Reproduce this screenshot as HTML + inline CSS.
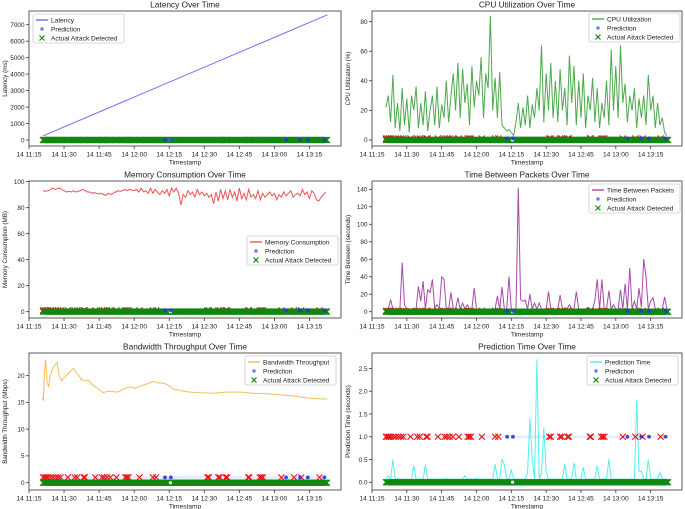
<!DOCTYPE html>
<html><head><meta charset="utf-8">
<style>
html,body{margin:0;padding:0;background:#fff;}
svg{display:block;font-family:"Liberation Sans","DejaVu Sans",sans-serif;}
</style></head>
<body>
<svg id="fig" width="685" height="509" viewBox="0 0 685 509" xmlns="http://www.w3.org/2000/svg"></svg>
<script>
// ---- shared data ----
const xTickLabels = ["14 11:15","14 11:30","14 11:45","14 12:00","14 12:15","14 12:30","14 12:45","14 13:00","14 13:15"];
const xTickMinutes = [0,15,30,45,60,75,90,105,120];
const startMinute = 6;           // first sample minute after 11:15
const redXMinutes = [6.0,6.7,7.4,8.1,9.2,10.2,11.4,12.5,13.5,16.6,19.5,20.6,23.4,23.9,28.4,31.3,32.2,33.4,34.8,37.4,41.2,41.9,42.6,47.3,53.0,54.4,76.3,77.0,81.0,81.7,84.2,84.8,93.8,94.2,98.7,99.4,100.1,108.0,113.4,116.5,124.3];
const blueDotMinutes = [58.2,60.7,110,116,119.3,126.4];
const latencyStart = 250, latencyEnd = 7600;
const bwMinutes = [5.7,6.1,6.7,7.1,7.7,8.4,9.1,10.3,12,12.9,13.9,16,18.1,19.1,20.3,21.4,22.4,23.9,25.3,27.4,29.6,31.7,33.9,36,37.7,39.6,41.7,43.9,45.3,47.4,50.3,53.1,55.3,57.4,59.6,61.7,64.6,68.9,73.1,78.9,84.6,90.3,96,101.7,107.4,113.1,118.9,123.1,127.7];
const bwValues = [15.8,15.3,21,23,19,17.8,20,21.5,22.4,20,19,20,21,21.3,20.5,20,19.2,19.1,19.1,18.2,17.5,16.8,17.1,17,16.9,17.3,17.7,17.9,17.6,18,18.4,18.9,18.6,18.6,18.2,17.5,17.2,16.9,16.8,16.7,16.9,16.9,16.7,16.6,16.4,16.2,15.8,15.7,15.6];
const cpuValues = [22,30,12,44,8,25,6,35,10,28, 5,30,20,36,8,25,10,33,6,20, 30,10,36,8,24,15,40,12,30,45, 20,52,15,48,25,38,10,50,22,40, 30,56,15,45,35,84,20,42,15,46, 10,8,6,7,5,3,12,25,8,22, 10,30,8,24,15,35,20,64,12,45, 20,52,15,40,12,48,20,35,10,57, 25,50,10,40,15,45,8,30,20,42, 12,35,8,25,15,40,10,61,20,50, 15,64,25,38,12,30,20,35,8,28, 15,30,10,44,20,30,8,25,10,15, 5,3];
const memValues = [93,92.5,93,93.5,95,94,94.5,95,94,93, 92,92.5,92,93,92,92.5,93,94,93,92, 92,91,91.5,91,90.5,91,90,89.5,91,90, 91,92,93,92.5,93,94,93,94,93.5,93, 94,92,95,92,93,91,95,91,94,92, 90,93,91,94,89,95,92,95,91,82, 90,88,93,90,92,88,94,90,92,89, 91,88,90,83,92,85,94,87,93,86, 94,88,92,85,95,87,91,86,94,88, 90,87,93,86,91,88,90,92,89,91, 86,90,88,92,89,91,93,88,90,91, 89,94,90,92,87,93,91,86,85,88, 90,92];
const tbpValues = [3,3,14,3,3,3,3,56,8,3, 2,3,3,3,29,12,35,3,25,22, 37,4,8,3,40,37,3,3,22,3, 3,16,3,10,3,8,3,3,27,3, 2,2,2,2,3,3,3,3,18,3, 28,3,3,40,3,3,3,142,14,12, 13,3,20,3,10,3,10,3,3,3, 23,3,3,3,3,19,3,3,3,8, 3,3,23,3,3,3,3,5,3,3, 13,37,3,37,3,3,24,3,8,3, 3,25,3,32,3,50,3,12,3,27, 5,60,40,3,12,16,3,3,3,3, 17,3];
const ptValues = [.07,.14,.07,.5,.07,.08,.07,.07,.07,.07, .07,.07,.37,.07,.07,.07,.07,.38,.07,.07, .07,.07,.07,.07,.07,.07,.08,.07,.07,.07, .07,.07,.07,.07,.14,.07,.07,.07,.07,.08, .07,.07,.07,.07,.07,.07,.07,.4,.07,.07, .51,.37,.07,.07,.28,.07,.07,.07,.07,.07, .07,.22,1.4,.5,.07,2.7,.07,.2,1.2,.24, .07,.07,.07,.07,.07,.07,.07,.4,.07,.07, .07,.43,.07,.07,.07,.33,.07,.07,.07,.07, .07,.37,.07,.07,.07,.07,.51,.07,.07,.07, .07,.07,.07,.07,.07,.07,.07,.07,1.8,.24, .24,.07,.07,.5,.07,.07,.07,.07,.22,.07, .07,.07];

const NS = "http://www.w3.org/2000/svg";
const svg = document.getElementById('fig');
function el(tag, attrs, parent, text){
  const e = document.createElementNS(NS, tag);
  for (const k in attrs) e.setAttribute(k, attrs[k]);
  if (text !== undefined) e.textContent = text;
  (parent || svg).appendChild(e);
  return e;
}

const panels = [
  {name:'latency', title:'Latency Over Time', ylab:'Latency (ms)', x0:29, x1:341, y0:11, y1:146, ymin:-364, ymax:7832, yticks:[0,1000,2000,3000,4000,5000,6000,7000], color:'#5555ee', label:'Latency', legend:[33,14]},
  {name:'cpu', title:'CPU Utilization Over Time', ylab:'CPU Utilization (%)', x0:372, x1:682, y0:11, y1:146, ymin:-4.1, ymax:87.2, yticks:[0,20,40,60,80], color:'#2e9a2e', label:'CPU Utilization', legend:[589,13]},
  {name:'memory', title:'Memory Consumption Over Time', ylab:'Memory Consumption (MB)', x0:29, x1:341, y0:181, y1:318, ymin:-4.9, ymax:100.5, yticks:[0,20,40,60,80,100], color:'#ee3333', label:'Memory Consumption', legend:[247,236]},
  {name:'tbp', title:'Time Between Packets Over Time', ylab:'Time Between (seconds)', x0:372, x1:682, y0:181, y1:318, ymin:-7.2, ymax:149.5, yticks:[0,20,40,60,80,100,120,140], color:'#9a2a9a', label:'Time Between Packets', legend:[589,184]},
  {name:'bandwidth', title:'Bandwidth Throughput Over Time', ylab:'Bandwidth Throughput (Mbps)', x0:29, x1:341, y0:353, y1:490, ymin:-1.36, ymax:24.2, yticks:[0,5,10,15,20], color:'#f5b040', label:'Bandwidth Throughput', legend:[245,356]},
  {name:'prediction-time', title:'Prediction Time Over Time', ylab:'Prediction Time (seconds)', x0:372, x1:682, y0:353, y1:490, ymin:-0.17, ymax:2.84, yticks:[0,0.5,1.0,1.5,2.0,2.5], color:'#33eeee', label:'Prediction Time', legend:[587,356]}
];
const xMinTot = 0, xMaxTot = 133.5;

panels.forEach(p=>{
  const g = el('g', {});
  
  
  const sx = m => p.x0 + (m - xMinTot) / (xMaxTot - xMinTot) * (p.x1 - p.x0);
  const sy = v => p.y1 - (v - p.ymin) / (p.ymax - p.ymin) * (p.y1 - p.y0);
  const t = el('text', {x:(p.x0+p.x1)/2, y:p.y0-3.5, 'font-size':8.3, 'text-anchor':'middle', fill:'#222'}, g, p.title);
   
  const yl = el('text', {x:0, y:0, 'font-size':6.3, 'text-anchor':'middle', fill:'#222', transform:`translate(${p.x0-22},${(p.y0+p.y1)/2}) rotate(-90)`}, g, p.ylab);
   
  const yd = p.yticks.some(v=>v%1!==0) ? 1 : 0;
  p.yticks.forEach(v=>{
    const y = sy(v);
    el('line', {x1:p.x0-3, x2:p.x0, y1:y, y2:y, stroke:'#333', 'stroke-width':0.8}, g);
    const tl = el('text', {x:p.x0-4.5, y:y+2.3, 'font-size':6.4, 'text-anchor':'end', fill:'#222'}, g, v.toFixed(yd));
     
  });
  xTickMinutes.forEach((m,i)=>{
    const x = sx(m);
    el('line', {x1:x, x2:x, y1:p.y1, y2:p.y1+3, stroke:'#333', 'stroke-width':0.8}, g);
    const tl = el('text', {x:x, y:p.y1+10.5, 'font-size':6.6, 'text-anchor':'middle', fill:'#222'}, g, xTickLabels[i]);
     
  });
  const xl = el('text', {x:(p.x0+p.x1)/2, y:p.y1+18.5, 'font-size':6.6, 'text-anchor':'middle', fill:'#222'}, g, 'Timestamp');
   

  const cid = 'clip-' + p.name;
  const cp = el('clipPath', {id:cid}, g);
  el('rect', {x:p.x0, y:p.y0, width:p.x1-p.x0, height:p.y1-p.y0}, cp);
  const pg = el('g', {'clip-path':`url(#${cid})`}, g);

  let pts = [];
  if (p.name==='latency'){
    pts = [[startMinute, latencyStart],[startMinute+121.7, latencyEnd]];
  } else if (p.name==='bandwidth'){
    pts = bwMinutes.map((m,i)=>[m, bwValues[i]]);
  } else {
    const arr = {cpu:cpuValues, memory:memValues, tbp:tbpValues, 'prediction-time':ptValues}[p.name];
    pts = arr.map((v,i)=>[startMinute+i, v]);
  }
  const line = el('polyline', {points: pts.map(q=>sx(q[0]).toFixed(1)+','+sy(q[1]).toFixed(1)).join(' '), fill:'none', stroke:p.color, 'stroke-width':1, 'stroke-opacity':0.85}, pg);
   

  for (let m=startMinute; m<=127.7; m+=1){
    el('circle', {cx:sx(m), cy:sy(1), r:1.8, fill:'#4455ff', 'fill-opacity':0.08}, pg);
  }
  // red predicted markers (drawn beneath green in upper plots)
  const rg = el('g', {stroke:'#ee1111', 'stroke-width':1.1}, pg);
   
  redXMinutes.forEach(m=>{
    const x = sx(m), y = sy(1);
    el('path', {d:`M${x-3},${y-3}L${x+3},${y+3}M${x-3},${y+3}L${x+3},${y-3}`}, rg);
  });
  const gg = el('g', {stroke:'#118811', 'stroke-width':1.1}, pg);
   
  for (let m=startMinute; m<=127.7; m+=0.5){
    const x = sx(m), y = sy(0);
    el('path', {d:`M${x-3},${y-3}L${x+3},${y+3}M${x-3},${y+3}L${x+3},${y-3}`}, gg);
  }
  el('circle', {cx:sx(60.5), cy:sy(0), r:1.6, fill:'#fff'}, pg);
  blueDotMinutes.forEach(m=>{
    const c = el('circle', {cx:sx(m), cy:sy(1), r:1.9, fill:'#2233ee', 'fill-opacity':0.9}, pg);
     
  });

  el('rect', {x:p.x0, y:p.y0, width:p.x1-p.x0, height:p.y1-p.y0, fill:'none', stroke:'#333', 'stroke-width':0.8}, g);

  const lw = 91, lh = 29;
  const lx = p.legend[0], ly = p.legend[1];
  const lg = el('g', {}, g);
   
  el('rect', {x:lx, y:ly, width:lw, height:lh, rx:2, fill:'#fff', 'fill-opacity':0.85, stroke:'#ccc', 'stroke-width':0.8}, lg);
  el('line', {x1:lx+3, x2:lx+15, y1:ly+6, y2:ly+6, stroke:p.color, 'stroke-width':1.2}, lg);
  el('circle', {cx:lx+9, cy:ly+15, r:1.7, fill:'#6677ff'}, lg);
  el('path', {d:`M${lx+6.5},${ly+21.5}L${lx+11.5},${ly+26.5}M${lx+6.5},${ly+26.5}L${lx+11.5},${ly+21.5}`, stroke:'#118811', 'stroke-width':1.2}, lg);
  const e1 = el('text', {x:lx+18, y:ly+8.3, 'font-size':6.6, fill:'#222'}, lg, p.label);
   
  const e2 = el('text', {x:lx+18, y:ly+17.3, 'font-size':6.6, fill:'#222'}, lg, 'Prediction');
   
  const e3 = el('text', {x:lx+18, y:ly+26.3, 'font-size':6.6, fill:'#222'}, lg, 'Actual Attack Detected');
   
});
</script>
</body></html>
